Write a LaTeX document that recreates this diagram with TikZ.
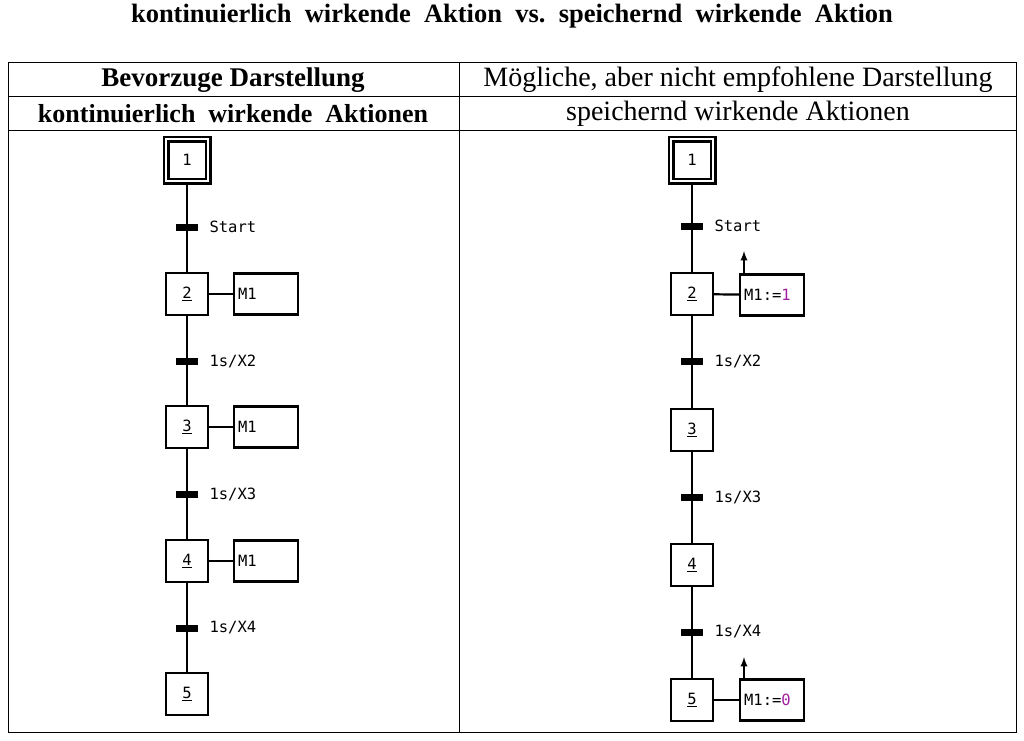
\documentclass[tikz,border=0pt]{standalone}
\usepackage{fontspec}
\setmainfont{Liberation Serif}
\newfontfamily\mono{DejaVu Sans Mono}
\definecolor{mag}{RGB}{160,30,160}
\begin{document}
\begin{tikzpicture}[x=1pt,y=-1pt,
 gstep/.style={draw,line width=2.2pt,minimum width=42pt,minimum height=42pt,inner sep=0pt,font=\mono\fontsize{15.5}{15.5}\selectfont},
 act/.style={draw,line width=2.2pt,minimum width=64pt,minimum height=41pt,inner sep=0pt,font=\mono\fontsize{15.5}{15.5}\selectfont,anchor=west,align=left,text width=56pt},
 tr/.style={fill,minimum width=22pt,minimum height=7pt,inner sep=0pt},
 tl/.style={font=\mono\fontsize{15.5}{15.5}\selectfont,anchor=west},
 ln/.style={line width=2.2pt},
 hd/.style={font=\fontsize{28}{28}\selectfont}]
\useasboundingbox (0,0) rectangle (1024,740);
\node[font=\bfseries\fontsize{26.5}{26.5}\selectfont] (title) at (512,16) {kontinuierlich\ \ wirkende\ \ Aktion\ \ vs.\ \ speichernd\ \ wirkende\ \ Aktion};
\draw[line width=0.8pt] (8,62) rectangle (1016,732) (459,62) -- (459,732) (8,96) -- (1016,96) (8,130) -- (1016,130);
\node[hd,font=\bfseries\fontsize{27}{27}\selectfont] (h1) at (233,80) {Bevorzuge Darstellung};
\node[hd] (h2) at (738,80) {Mögliche, aber nicht empfohlene Darstellung};
\node[hd,font=\bfseries\fontsize{26}{26}\selectfont] (h3) at (233,114) {kontinuierlich\ \ wirkende\ \ Aktionen};
\node[hd] (h4) at (738,114) {speichernd wirkende Aktionen};
% left
\node[gstep,double,double distance=2.6pt] (a1) at (187,160) {1};
\node[gstep] (a2) at (187,294) {\underline{2}};
\node[gstep] (a3) at (187,427) {\underline{3}};
\node[gstep] (a4) at (187,561) {\underline{4}};
\node[gstep] (a5) at (187,694) {\underline{5}};
\draw[ln] (a1) -- (a2) -- (a3) -- (a4) -- (a5);
\foreach \y/\t [count=\i] in {227/Start,361/1s\slash X2,494/1s\slash X3,628/1s\slash X4}{
 \node[tr] (at\i) at (187,\y) {};
 \node[tl] (atl\i) at (206,\y) {\t};}
\foreach \i in {2,3,4}{
 \node[act] (aa\i) at (233,0 |- a\i) {M1};
 \draw[ln] (a\i) -- (aa\i);}
% right
\node[gstep,double,double distance=2.6pt] (b1) at (692,160) {1};
\node[gstep] (b2) at (692,294) {\underline{2}};
\node[gstep] (b3) at (692,430) {\underline{3}};
\node[gstep] (b4) at (692,565) {\underline{4}};
\node[gstep] (b5) at (692,700) {\underline{5}};
\draw[ln] (b1) -- (b2) -- (b3) -- (b4) -- (b5);
\foreach \y/\t [count=\i] in {226/Start,361/1s\slash X2,497/1s\slash X3,632/1s\slash X4}{
 \node[tr] (bt\i) at (692,\y) {};
 \node[tl] (btl\i) at (711,\y) {\t};}
\node[act] (ba2) at (739,295) {M1:=\textcolor{mag}{1}};
\node[act] (ba5) at (739,700) {M1:=\textcolor{mag}{0}};
\draw[ln] (b2) -- (ba2);
\draw[ln] (b5) -- (ba5);
\coordinate (u2) at (744,251);
\coordinate (u5) at (744,657);
\draw[ln,-latex] (ba2.north west) ++(5,0) coordinate (s2) (s2) -- (u2);
\draw[ln,-latex] (ba5.north west) ++(5,0) coordinate (s5) (s5) -- (u5);
\end{tikzpicture}
\end{document}
